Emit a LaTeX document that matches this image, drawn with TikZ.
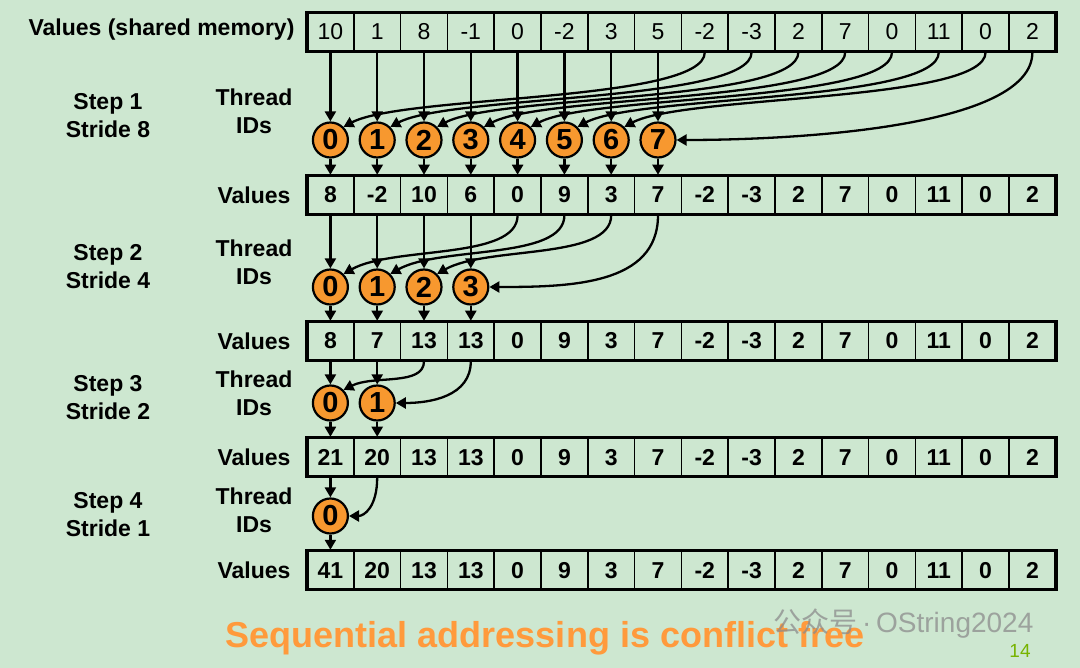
\documentclass[tikz,border=0pt]{standalone}
\usepackage{fontspec}
\setmainfont{Liberation Sans}
\newfontfamily\cjk{Noto Sans CJK SC}
\usetikzlibrary{arrows.meta,calc}
\definecolor{bg}{HTML}{CDE7D0}
\definecolor{org}{HTML}{F7982F}
\definecolor{ttl}{HTML}{FF9A3C}
\definecolor{grn}{HTML}{77B300}
\begin{document}
\begin{tikzpicture}[x=1pt,y=-1pt,
  cell/.style={draw,line width=1.5pt,minimum width=46.8pt,minimum height=39pt,inner sep=0pt,text height=16pt,text depth=0pt,anchor=center,font=\fontsize{23}{23}\selectfont},
  bcell/.style={font=\bfseries\fontsize{23}{23}\selectfont},
  tid/.style={circle,draw,line width=2.2pt,fill=org,minimum size=35pt,inner sep=0pt,font=\bfseries\fontsize{29}{29}\selectfont},
  lab/.style={font=\bfseries\fontsize{23}{28}\selectfont,align=center},
  ar/.style={line width=2.3pt,-{Triangle[length=10pt,width=11pt]}}]
\useasboundingbox[fill=bg] (0,0) rectangle (1080,668);
\def\cw{46.8}
\newcommand{\vrow}[4]{%
  \foreach \v [count=\i from 0] in {#3} {
    \node[cell,#4] (#1\i) at ({307+\cw/2+\i*\cw},#2) {\v};
  }
  \draw[line width=3.5pt] (307,#2-19.5) rectangle (1056,#2+19.5);
}
\vrow{a}{32}{10,1,8,-1,0,-2,3,5,-2,-3,2,7,0,11,0,2}{}
\vrow{b}{195}{8,-2,10,6,0,9,3,7,-2,-3,2,7,0,11,0,2}{bcell}
\vrow{c}{341}{8,7,13,13,0,9,3,7,-2,-3,2,7,0,11,0,2}{bcell}
\vrow{d}{457}{21,20,13,13,0,9,3,7,-2,-3,2,7,0,11,0,2}{bcell}
\vrow{e}{570}{41,20,13,13,0,9,3,7,-2,-3,2,7,0,11,0,2}{bcell}
\node[lab,anchor=east] (lv) at (298,30) {Values (shared memory)};
\foreach \n/\y in {b/195,c/341,d/457,e/570} \node[lab] (lv\n) at (254,\y) {Values};
\foreach \s/\st/\y in {1/8/116,2/4/267,3/2/398,4/1/515} {
  \node[lab] (st\s) at (108,\y) {Step \s\\Stride \st};
  \node[lab] (th\s) at (254,\y-5) {Thread\\IDs};
}
\foreach \i in {0,...,7} \node[tid] (p\i) at (a\i |- 0,140) {\i};
\foreach \i in {0,...,3} \node[tid] (q\i) at (a\i |- 0,287) {\i};
\foreach \i in {0,...,1} \node[tid] (r\i) at (a\i |- 0,403) {\i};
\node[tid] (s0) at (a0 |- 0,516) {0};
% step 1
\foreach \i in {0,...,7} {
  \draw[ar] (a\i.south) -- (p\i.north);
  \draw[ar] (p\i.south) -- (b\i.north);
}
\foreach \i [evaluate=\i as \j using int(\i+8)] in {0,...,6}
  \draw[ar] (a\j.south) .. controls ($(a\j.south)+(0,50)$) and ($(p\i.north east)+(60,-32)$) .. (p\i.north east);
\draw[ar] (a15.south) .. controls ($(a15.south)+(0,75)$) and ($(p7.east)+(120,0)$) .. (p7.east);
% step 2
\foreach \i in {0,...,3} {
  \draw[ar] (b\i.south) -- (q\i.north);
  \draw[ar] (q\i.south) -- (c\i.north);
}
\foreach \i [evaluate=\i as \j using int(\i+4)] in {0,...,2}
  \draw[ar] (b\j.south) .. controls ($(b\j.south)+(0,45)$) and ($(q\i.north east)+(50,-28)$) .. (q\i.north east);
\draw[ar] (b7.south) .. controls ($(b7.south)+(0,70)$) and ($(q3.east)+(80,0)$) .. (q3.east);
% step 3
\foreach \i in {0,1} {
  \draw[ar] (c\i.south) -- (r\i.north);
  \draw[ar] (r\i.south) -- (d\i.north);
}
\draw[ar] (c2.south) .. controls ($(c2.south)+(0,25)$) and ($(r0.north east)+(30,-15)$) .. (r0.north east);
\draw[ar] (c3.south) .. controls ($(c3.south)+(0,35)$) and ($(r1.east)+(35,0)$) .. (r1.east);
% step 4
\draw[ar] (d0.south) -- (s0.north);
\draw[ar] (s0.south) -- (e0.north);
\draw[ar] (d1.south) .. controls ($(d1.south)+(0,30)$) and ($(s0.east)+(15,0)$) .. (s0.east);
% footer
\node[font=\bfseries\fontsize{36}{36}\selectfont,text=ttl] (title) at (545,638) {Sequential addressing is conflict free};
\node[text=black!45,font=\fontsize{28}{28}\selectfont,anchor=west,opacity=0.75] (wm) at (770,624) {{\cjk 公众号}\,·\,OString2024};
\node[text=grn,font=\fontsize{19}{19}\selectfont] (pg) at (1020,651) {14};
\end{tikzpicture}
\end{document}
